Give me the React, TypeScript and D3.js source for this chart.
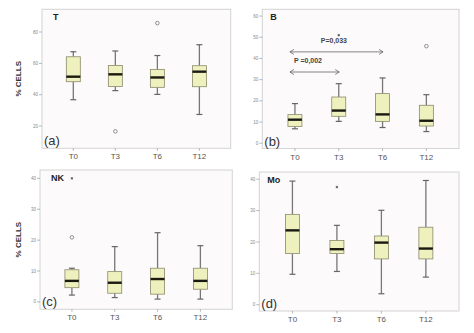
import React from "react";
import * as d3 from "d3";

const categories = ["T0", "T3", "T6", "T12"];

// [whiskerLow, q1, median, q3, whiskerHigh]
const statsT = [
  [36.8, 48.3, 51.5, 64.2, 67.4],
  [42.6, 45.3, 53.0, 58.7, 67.9],
  [40.2, 44.7, 51.0, 56.1, 65.0],
  [27.4, 45.1, 54.7, 58.5, 71.9],
];
const outliersT = [
  { cat: "T3", v: 16.6, kind: "o" },
  { cat: "T6", v: 85.7, kind: "o" },
];
const ticksT = [20, 40, 60, 80];

const statsB = [
  [6.8, 7.9, 11.1, 13.5, 18.7],
  [10.3, 12.7, 15.4, 21.8, 28.1],
  [7.4, 10.3, 13.6, 23.4, 30.8],
  [5.5, 8.1, 10.6, 17.9, 22.9],
];
const outliersB = [
  { cat: "T3", v: 51.0, kind: "*" },
  { cat: "T12", v: 45.8, kind: "o" },
];
const ticksB = [0, 10, 20, 30, 40, 50, 60];

const statsNK = [
  [2.2, 4.6, 6.8, 10.4, 10.9],
  [1.4, 2.8, 6.2, 9.8, 17.9],
  [0.9, 2.5, 7.4, 10.9, 22.4],
  [0.9, 4.1, 6.8, 10.9, 18.2],
];
const outliersNK = [
  { cat: "T0", v: 40.0, kind: "*" },
  { cat: "T0", v: 20.9, kind: "o" },
];
const ticksNK = [0, 10, 20, 30, 40];

const statsMo = [
  [9.7, 16.3, 23.7, 28.8, 39.4],
  [10.6, 16.3, 17.7, 20.5, 25.3],
  [3.5, 14.6, 19.8, 21.9, 30.1],
  [8.8, 14.6, 17.9, 24.7, 39.6],
];
const outliersMo = [{ cat: "T3", v: 37.5, kind: "*" }];
const ticksMo = [0, 10, 20, 30, 40];

const pAnnotations = [
  { from: "T0", to: "T6", v: 43.1, label: "P=0,033", labelCat: "T3", dx: -18, dy: -9 },
  { from: "T0", to: "T3", v: 33.6, label: "P =0,002", labelCat: "T0", dx: -1, dy: -9 },
];

type Panel = {
  name: string;
  letter: string;
  stats: number[][];
  outliers: { cat: string; v: number; kind: string }[];
  ticks: number[];
  domain: [number, number];
  frame: { l: number; r: number; t: number; b: number };
  showYTitle: boolean;
  annotations?: typeof pAnnotations;
};

const panels: Panel[] = [
  { name: "T", letter: "(a)", stats: statsT, outliers: outliersT, ticks: ticksT, domain: [5.8, 94.5], frame: { l: 42, r: 230.7, t: 9.3, b: 148.3 }, showYTitle: true },
  { name: "B", letter: "(b)", stats: statsB, outliers: outliersB, ticks: ticksB, domain: [-2.5, 63.2], frame: { l: 262.3, r: 459, t: 9.3, b: 148.5 }, showYTitle: false, annotations: pAnnotations },
  { name: "NK", letter: "(c)", stats: statsNK, outliers: outliersNK, ticks: ticksNK, domain: [-2.4, 42.7], frame: { l: 40, r: 232.3, t: 170, b: 309.3 }, showYTitle: true },
  { name: "Mo", letter: "(d)", stats: statsMo, outliers: outliersMo, ticks: ticksMo, domain: [-2.0, 42.3], frame: { l: 259.3, r: 459, t: 172, b: 311 }, showYTitle: false },
];

function PanelView({ p, idx }: { p: Panel; idx: number }) {
  const { l, r, t, b } = p.frame;
  const x = d3.scalePoint<string>().domain(categories).range([l, r]).padding(0.745);
  const y = d3.scaleLinear().domain(p.domain).range([b, t]);
  const bw = 14;
  const cw = 6;
  const mid = (t + b) / 2;
  return (
    <g>
      <rect x={l} y={t} width={r - l} height={b - t} fill="#fcfafb" stroke="#d4d4d4" strokeWidth={1} />
      {p.ticks.map((tk) => (
        <g key={tk}>
          <line x1={l - 3} x2={l} y1={y(tk)} y2={y(tk)} stroke="#999" strokeWidth={0.7} />
          <text x={l - 4} y={y(tk)} dy="0.35em" fontSize={4.5} fill="#888" textAnchor="end" fontFamily="Arial, sans-serif">{tk}</text>
        </g>
      ))}
      {categories.map((c) => (
        <g key={c}>
          <line x1={x(c)} x2={x(c)} y1={b} y2={b + 2.5} stroke="#999" strokeWidth={0.7} />
          <text x={x(c)} y={b + 11} fontSize={8} fill="#555" textAnchor="middle" fontFamily="Arial, sans-serif">{c}</text>
        </g>
      ))}
      {p.stats.map((s, i) => {
        const cx = x(categories[i]) as number;
        return (
          <g key={i}>
            <line x1={cx} x2={cx} y1={y(s[0])} y2={y(s[1])} stroke="#777" strokeWidth={1.3} />
            <line x1={cx} x2={cx} y1={y(s[3])} y2={y(s[4])} stroke="#777" strokeWidth={1.3} />
            <line x1={cx - cw / 2} x2={cx + cw / 2} y1={y(s[0])} y2={y(s[0])} stroke="#666" strokeWidth={1.2} />
            <line x1={cx - cw / 2} x2={cx + cw / 2} y1={y(s[4])} y2={y(s[4])} stroke="#666" strokeWidth={1.2} />
            <rect x={cx - bw / 2} y={y(s[3])} width={bw} height={y(s[1]) - y(s[3])} fill="#eef1be" stroke="#8a8a6a" strokeWidth={0.8} />
            <line x1={cx - bw / 2} x2={cx + bw / 2} y1={y(s[2])} y2={y(s[2])} stroke="#1a1a10" strokeWidth={2.4} />
          </g>
        );
      })}
      {p.outliers.map((o, i) => {
        const cx = x(o.cat) as number;
        const cy = y(o.v);
        return o.kind === "o" ? (
          <circle key={i} cx={cx} cy={cy} r={1.8} fill="none" stroke="#777" strokeWidth={0.8} />
        ) : (
          <path
            key={i}
            d={`M${cx},${cy - 1.3}L${cx},${cy + 1.3}M${cx - 1.2},${cy - 0.7}L${cx + 1.2},${cy + 0.7}M${cx - 1.2},${cy + 0.7}L${cx + 1.2},${cy - 0.7}`}
            stroke="#333"
            strokeWidth={0.6}
            fill="none"
          />
        );
      })}
      {p.annotations && p.annotations.map((a, i) => {
        const x1 = (x(a.from) as number) - 5;
        const x2 = (x(a.to) as number) + 0.5;
        const yy = y(a.v);
        return (
          <g key={i}>
            <line x1={x1} x2={x2} y1={yy} y2={yy} stroke="#666" strokeWidth={0.8} />
            <path d={`M${x1 + 4},${yy - 2.5} L${x1},${yy} L${x1 + 4},${yy + 2.5}`} fill="none" stroke="#666" strokeWidth={0.8} />
            <path d={`M${x2 - 4},${yy - 2.5} L${x2},${yy} L${x2 - 4},${yy + 2.5}`} fill="none" stroke="#666" strokeWidth={0.8} />
            <text x={(x(a.labelCat) as number) + a.dx} y={yy + a.dy} fontSize={7} fontWeight="bold" fill="#444" fontFamily="Arial, sans-serif">{a.label}</text>
          </g>
        );
      })}
      <text x={l + (idx % 2 === 0 ? 11 : 8)} y={t + 11} fontSize={9} fontWeight="bold" fill="#222" fontFamily="Arial, sans-serif">{p.name}</text>
      <text x={l + 2} y={b - 3} fontSize={13} fill="#333" fontFamily="Arial, sans-serif">{p.letter}</text>
      {p.showYTitle && (
        <text transform={`translate(21,${mid}) rotate(-90)`} textAnchor="middle" fontSize={8} fontWeight="bold" fill="#333" fontFamily="Arial, sans-serif">% CELLS</text>
      )}
    </g>
  );
}

export default function App() {
  return (
    <svg width={474} height={333} style={{ position: "absolute", left: 0, top: 0, background: "#fff" }}>
      <rect width={474} height={333} fill="#fff" />
      {panels.map((p, i) => (
        <PanelView key={p.name} p={p} idx={i} />
      ))}
    </svg>
  );
}
